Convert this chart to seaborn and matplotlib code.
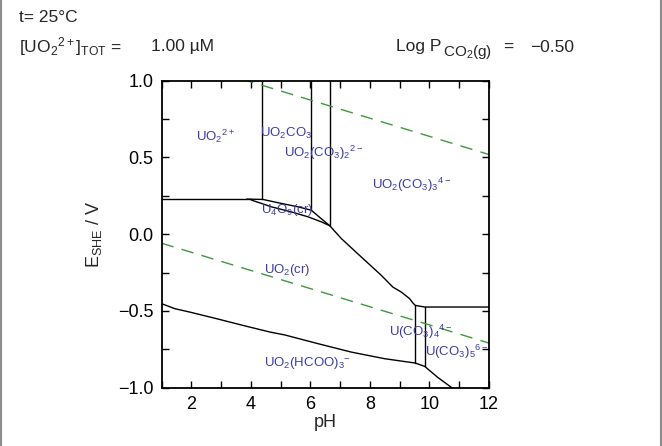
import matplotlib
matplotlib.use("Agg")
import matplotlib.pyplot as plt
from matplotlib.lines import Line2D
import seaborn as sns
import pandas as pd

# ---------------- data ----------------
# horizontal UO2(2+) / UO2(cr) boundary
b_h_x = [1.0, 4.02]
b_h_y = [0.228, 0.228]
# vertical boundaries between aqueous U(VI) species
v1_x = [4.37, 4.37]; v1_y = [0.228, 1.0]
v2_x = [6.03, 6.03]; v2_y = [0.156, 1.0]
v3_x = [6.65, 6.65]; v3_y = [0.055, 1.0]
# U4O9(cr) sliver: upper and lower boundaries
u4_up_x = [3.86, 4.02, 4.41, 5.03, 5.59, 6.03, 6.37, 6.65]
u4_up_y = [0.228, 0.228, 0.226, 0.200, 0.178, 0.156, 0.100, 0.055]
u4_lo_x = [4.02, 4.36, 4.69, 5.36, 5.92, 6.37, 6.65]
u4_lo_y = [0.222, 0.200, 0.178, 0.145, 0.113, 0.080, 0.055]
# UO2(cr) / UO2(CO3)3(4-) boundary
main_x = [6.65, 7.04, 7.71, 8.38, 8.77, 9.05, 9.33, 9.45, 9.52, 9.84, 12.0]
main_y = [0.055, -0.029, -0.149, -0.268, -0.345, -0.377, -0.420, -0.450, -0.464, -0.475, -0.475]
# U(CO3)4(4-) region walls
v4_x = [9.52, 9.52]; v4_y = [-0.464, -0.840]
v5_x = [9.84, 9.84]; v5_y = [-0.475, -0.862]
# UO2(cr) / UO2(HCOO)3(-) boundary
low_x = [1.0, 1.45, 1.95, 2.85, 3.74, 4.64, 5.14, 6.26, 7.38, 8.50, 9.52, 9.84, 10.28, 10.78]
low_y = [-0.453, -0.486, -0.508, -0.551, -0.595, -0.638, -0.657, -0.714, -0.769, -0.812, -0.840, -0.862, -0.934, -1.005]
# water stability lines (dashed)
o2_x = [1.0, 12.0]; o2_y = [1.170, 0.519]
h2_x = [1.0, 12.0]; h2_y = [-0.059, -0.710]

species = ["UO$_2$$^{2+}$", "UO$_2$CO$_3$", "UO$_2$(CO$_3$)$_2$$^{2-}$", "UO$_2$(CO$_3$)$_3$$^{4-}$",
           "U$_4$O$_9$(cr)", "UO$_2$(cr)", "UO$_2$(HCOO)$_3$$^{-}$", "U(CO$_3$)$_4$$^{4-}$",
           "U(CO$_3$)$_5$$^{6-}$"]
lab_x = [2.83, 5.20, 6.45, 9.40, 5.23, 5.23, 5.90, 9.70, 10.90]
lab_y = [0.640, 0.655, 0.530, 0.320, 0.160, -0.235, -0.840, -0.640, -0.770]

x_ticks = [2, 4, 6, 8, 10, 12]
y_ticks = [-1.0, -0.5, 0.0, 0.5, 1.0]

# ---------------- style ----------------
sns.set_theme(style="white")
plt.rcParams["font.family"] = ["Liberation Sans", "DejaVu Sans"]
plt.rcParams["mathtext.fontset"] = "custom"
plt.rcParams["mathtext.rm"] = "Liberation Sans"
plt.rcParams["mathtext.it"] = "Liberation Sans"
plt.rcParams["mathtext.default"] = "regular"

fig = plt.figure(figsize=(6.62, 4.46), dpi=100)
ax = fig.add_axes([0.244, 0.131, 0.7387 - 0.244, 0.819 - 0.131])

def seg(xs, ys, **kw):
    df = pd.DataFrame({"x": xs, "y": ys})
    sns.lineplot(data=df, x="x", y="y", sort=False, estimator=None, ax=ax, **kw)

black = dict(color="black", linewidth=1.0)
for xs, ys in [(b_h_x, b_h_y), (v1_x, v1_y), (v2_x, v2_y), (v3_x, v3_y),
               (u4_up_x, u4_up_y), (u4_lo_x, u4_lo_y), (main_x, main_y),
               (v4_x, v4_y), (v5_x, v5_y), (low_x, low_y)]:
    seg(xs, ys, **black)

ax.plot(o2_x, o2_y, color="#3c9a3c", linewidth=1.0, dashes=(9, 6))
ax.plot(h2_x, h2_y, color="#3c9a3c", linewidth=1.0, dashes=(9, 6))

for s, x, y in zip(species, lab_x, lab_y):
    ax.text(x, y, s, color="#3b3ba6", fontsize=9.5, ha="center", va="center")

ax.set_xlim(1, 12)
ax.set_ylim(-1.0, 1.0)
ax.set_xticks(x_ticks)
ax.set_xticklabels([str(t) for t in x_ticks])
ax.set_yticks(y_ticks)
ax.set_yticklabels(["\u22121.0", "\u22120.5", "0.0", "0.5", "1.0"])
ax.set_xticks([1, 3, 5, 7, 9, 11], minor=True)
ax.set_yticks([-0.75, -0.25, 0.25, 0.75], minor=True)
ax.tick_params(which="both", direction="in", length=5, width=1.0, top=True, right=True,
               bottom=True, left=True, colors="black", labelsize=13, pad=6)
for sp in ax.spines.values():
    sp.set_color("black")
    sp.set_linewidth(1.3)
ax.set_xlabel("pH", fontsize=13, labelpad=1)
ax.set_ylabel("E$_{SHE}$ / V", fontsize=13, labelpad=10)

# header text
fs = 12.5
fig.text(19 / 662, 1 - 18 / 446, "t= 25°C", fontsize=fs, va="center", ha="left")
fig.text(19 / 662, 1 - 47 / 446, "[UO$_2$$^{2+}$]$_{TOT}$ =", fontsize=fs, va="center", ha="left")
fig.text(151 / 662, 1 - 47 / 446, "1.00 µM", fontsize=fs, va="center", ha="left")
fig.text(396 / 662, 1 - 47 / 446, "Log P", fontsize=fs, va="center", ha="left")
fig.text(443 / 662, 1 - 52 / 446, "CO$_2$(g)", fontsize=11, va="center", ha="left")
fig.text(503 / 662, 1 - 47 / 446, "=", fontsize=fs, va="center", ha="left")
fig.text(530 / 662, 1 - 47 / 446, "\u22120.50", fontsize=fs, va="center", ha="left")

# gray frame on figure sides
fig.add_artist(Line2D([0.001, 0.001], [0, 1], transform=fig.transFigure, color="#8c8c8c", linewidth=1.5))
fig.add_artist(Line2D([0.998, 0.998], [0, 1], transform=fig.transFigure, color="#8c8c8c", linewidth=1.5))

fig.savefig("out.png", dpi=100)
